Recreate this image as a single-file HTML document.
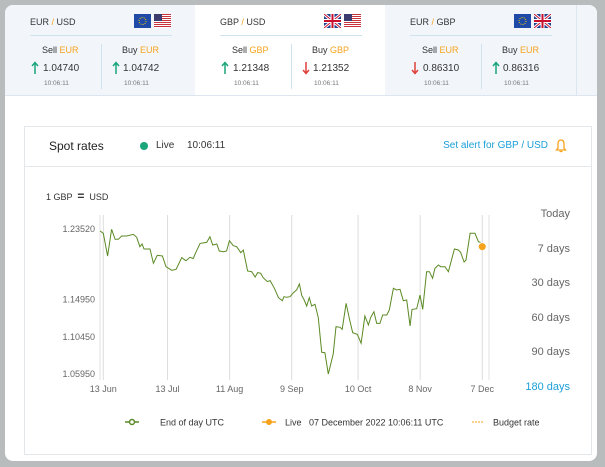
<!DOCTYPE html>
<html><head><meta charset="utf-8">
<style>
*{box-sizing:border-box;margin:0;padding:0}
body{width:605px;height:467px;background:#b9bcbd;font-family:"Liberation Sans",sans-serif;position:relative;overflow:hidden;color:#333}
.frame{position:absolute;left:5px;top:5px;width:592px;height:456px;background:#fff;border-radius:8px;overflow:hidden}
.t{position:absolute;white-space:nowrap}
.card{position:absolute;top:0;height:91px;background:#f2f6fb;border-right:1px solid #dde6ef;border-bottom:1px solid #dde6ef}
.o{color:#f7a21b}
.flag{position:absolute;width:17px;height:14px}
</style></head><body>
<div class="frame">
<div id="cards"></div>
<div style="position:absolute;left:19px;top:121px;width:568px;height:329px;border:1px solid #e3e7ea"></div>
<div style="position:absolute;left:19px;top:161px;width:568px;height:1px;background:#e3e7ea"></div>
<div class="t" style="left:44px;top:134px;font-size:12px;color:#222">Spot rates</div>
<div style="position:absolute;left:135px;top:137px;width:8px;height:8px;border-radius:50%;background:#1aa57a"></div>
<div class="t" style="left:151px;top:135px;font-size:10px">Live</div>
<div class="t" style="left:182px;top:135px;font-size:10px">10:06:11</div>
<div class="t" style="right:49px;top:135px;font-size:10px;color:#1a9fd8">Set alert for GBP / USD</div>
<svg style="position:absolute;left:550px;top:134px" width="12" height="14" viewBox="0 0 12 14"><path d="M6 1C3.5 1 3 3 3 5v4L1.5 11h9L9 9V5C9 3 8.5 1 6 1z" fill="none" stroke="#f7a21b" stroke-width="1.3"/><path d="M4.5 12.5h3" stroke="#f7a21b" stroke-width="1.3"/></svg>
<div class="t" style="left:41px;top:184px;font-size:9px">1 GBP &nbsp;<b style="font-size:12px">=</b>&nbsp; USD</div>
<div id="periods"></div>
</div>
<svg id="chart" style="position:absolute;left:0;top:0" width="605" height="467"></svg>
<script>
const days=[-1.5,0,2,3.9,5.5,7,8.6,10.9,14,15.6,17.1,18.1,19,21.8,23.4,25.2,27.6,29.3,32,34,36.6,38.6,40.5,42,43,45.2,48.3,49.8,51.1,53,54.2,56.1,57.6,58.9,60.7,62.3,64.2,65.4,67.4,69.3,70.9,72.1,73.5,74.7,76.6,77.9,79.9,81.8,83.6,84.4,85.6,87.2,88.8,90.3,91.6,92.7,93.7,95,96.2,97.3,98.9,100.4,102,103.5,105.1,107.4,108.7,110.6,111.6,113.4,114.9,116.5,118.7,120.4,122.2,123.8,124.9,126.4,127.7,129.2,130.5,132.4,133.6,135.5,137,138.6,140.1,141.7,143.3,144.2,146.4,147.9,149.2,151,152.3,153.8,154.9,156.5,157.6,159.6,161.2,164,165.8,166.9,168.5,169.4,171.3,173.6,175.2,176.2];
const rates=[1.2328,1.2300,1.2025,1.2348,1.2227,1.2227,1.2267,1.2267,1.2287,1.2251,1.2138,1.2170,1.2110,1.2110,1.1936,1.2033,1.2025,1.1895,1.1851,1.1863,1.2005,1.1968,1.2009,1.1993,1.2057,1.2178,1.2190,1.2259,1.2158,1.2170,1.2085,1.2077,1.2085,1.2210,1.2150,1.2138,1.2065,1.2097,1.1843,1.1835,1.1770,1.1823,1.1815,1.1762,1.1714,1.1726,1.1633,1.1520,1.1483,1.1532,1.1524,1.1532,1.1580,1.1613,1.1685,1.1544,1.1499,1.1419,1.1520,1.1419,1.1439,1.1277,1.0857,1.0853,1.0594,1.0837,1.1168,1.1160,1.1136,1.1451,1.1269,1.1095,1.1075,1.0966,1.1297,1.1188,1.1281,1.1350,1.1208,1.1208,1.1309,1.1309,1.1370,1.1633,1.1613,1.1621,1.1483,1.1491,1.1176,1.1378,1.1386,1.1552,1.1378,1.1835,1.1835,1.1754,1.1875,1.1916,1.1895,1.1895,1.1835,1.2110,1.2097,1.2069,1.1952,1.1976,1.2300,1.2300,1.2198,1.2190];
const liveDay=[177];
const liveRate=[1.2138];
const xTickLabels=["13 Jun","13 Jul","11 Aug","9 Sep","10 Oct","8 Nov","7 Dec"];
const xTickDays=[0,30,59,88,119,148,177];
const yTicks=[1.2352,1.1495,1.1045,1.0595];
const yTickLabels=["1.23520","1.14950","1.10450","1.05950"];
const periods=["Today","7 days","30 days","60 days","90 days","180 days"];

const x=d=>103.3+d*2.141;
const y=v=>229+(1.2352-v)*825;
const NS="http://www.w3.org/2000/svg";
const svg=document.getElementById('chart');
function mk(tag,attrs){const e=document.createElementNS(NS,tag);for(const k in attrs)e.setAttribute(k,attrs[k]);svg.appendChild(e);return e;}
let ed=mk('line',{x1:100,x2:100,y1:215,y2:380,stroke:'#e0e0e0'});


ed=mk('line',{x1:489,x2:489,y1:215,y2:380,stroke:'#e0e0e0'});


xTickDays.forEach((d,i)=>{
  const g=mk('line',{x1:x(d),x2:x(d),y1:215,y2:380,stroke:'#dcdcdc'});
  
  
  const t=mk('text',{x:x(d),y:392,'font-size':9,fill:'#666','text-anchor':'middle','font-family':'Liberation Sans'});
  t.textContent=xTickLabels[i];
  
  
});
yTicks.forEach((v,i)=>{
  const t=mk('text',{x:95,y:y(v)+3,'font-size':9,fill:'#666','text-anchor':'end','font-family':'Liberation Sans'});
  t.textContent=yTickLabels[i];
  
  
});
const pts=days.map((d,i)=>x(d).toFixed(1)+','+y(rates[i]).toFixed(1)).join(' ');
const ln=mk('polyline',{points:pts,fill:'none',stroke:'#5b8a24','stroke-width':1});


const lv=mk('circle',{cx:x(liveDay[0]),cy:y(liveRate[0]),r:3.5,fill:'#f7a21b'});


let l=mk('line',{x1:125,x2:139,y1:422,y2:422,stroke:'#5b8a24','stroke-width':1.5});


l=mk('circle',{cx:132,cy:422,r:2.5,fill:'#fff',stroke:'#5b8a24','stroke-width':1.5});


l=mk('line',{x1:262,x2:276,y1:422,y2:422,stroke:'#f7a21b','stroke-width':1.5});


l=mk('circle',{cx:269,cy:422,r:3,fill:'#f7a21b'});


l=mk('line',{x1:472,x2:484,y1:422,y2:422,stroke:'#f7a21b','stroke-width':1,'stroke-dasharray':'2,1'});


[[160,'End of day UTC','legend-eod-label'],[285,'Live','legend-live-label'],[309,'07 December 2022 10:06:11 UTC','legend-live-time'],[493,'Budget rate','legend-budget-label']].forEach(a=>{
  const t=mk('text',{x:a[0],y:425.5,'font-size':9,fill:'#333','font-family':'Liberation Sans'});
  t.textContent=a[1];
  
  
});
const pd=document.getElementById('periods');
periods.forEach((p,i)=>{
  const d=document.createElement('div');
  d.className='t';
  d.style.cssText='right:27px;top:'+(203+i*34.5)+'px;font-size:11px;color:'+(i==5?'#1a9fd8':'#666');
  d.textContent=p;
  
  
  pd.appendChild(d);
});
const cardData=[["EUR","USD","EUR",["eu","us"],"1.04740","1.04742",["up","up"],"#f2f6fb"],["GBP","USD","GBP",["uk","us"],"1.21348","1.21352",["up","down"],"#fff"],["EUR","GBP","EUR",["eu","uk"],"0.86310","0.86316",["down","up"],"#f2f6fb"]];
function flag(k){
  if(k=='eu')return '<svg width="17" height="14"><rect width="17" height="14" fill="#1f4aa8"/><circle cx="8.5" cy="7" r="3.5" fill="none" stroke="#f5d000" stroke-width="1" stroke-dasharray="1,1.2"/></svg>';
  if(k=='us'){let s='<svg width="17" height="14"><rect width="17" height="14" fill="#fff"/>';for(let i=0;i<7;i++)s+='<rect y="'+(i*2)+'" width="17" height="1" fill="#c8323a"/>';return s+'<rect width="8" height="7" fill="#3c3b6e"/></svg>';}
  return '<svg width="17" height="14"><rect width="17" height="14" fill="#1f3f8f"/><path d="M0 0L17 14M17 0L0 14" stroke="#fff" stroke-width="3"/><path d="M0 0L17 14M17 0L0 14" stroke="#c8102e" stroke-width="1"/><path d="M8.5 0V14M0 7H17" stroke="#fff" stroke-width="4"/><path d="M8.5 0V14M0 7H17" stroke="#c8102e" stroke-width="2"/></svg>';
}
function arrow(dir){const c=dir=='up'?'#1aa57a':'#e0403a';
  return dir=='up'?'<svg width="8" height="14"><path d="M4 13V2M1 5L4 1.5L7 5" fill="none" stroke="'+c+'" stroke-width="1.5"/></svg>':'<svg width="8" height="14"><path d="M4 1V12M1 9L4 12.5L7 9" fill="none" stroke="'+c+'" stroke-width="1.5"/></svg>';}
const cw=document.getElementById('cards');
cardData.forEach((c,i)=>{
  const L=i*190;
  const d=document.createElement('div');
  d.className='card';
  d.style.cssText='left:'+L+'px;width:192px;background:'+c[7];
  
  
  d.innerHTML='<div class="t" style="left:25px;top:12px;font-size:9px">'+c[0]+' <span class="o">/</span> '+c[1]+'</div>'+
  '<div class="flag" style="left:129px;top:9px">'+flag(c[3][0])+'</div><div class="flag" style="left:149px;top:9px">'+flag(c[3][1])+'</div>'+
  '<div style="position:absolute;left:25px;top:30px;width:142px;height:1px;background:#cfe3ef"></div>'+
  '<div style="position:absolute;left:96px;top:39px;width:1px;height:45px;background:#cfe3ef"></div>'+
  '<div class="t" style="left:37px;top:40px;font-size:9px">Sell <span class="o">'+c[2]+'</span></div>'+
  '<div class="t" style="left:117px;top:40px;font-size:9px">Buy <span class="o">'+c[2]+'</span></div>'+
  '<div class="t" style="left:26px;top:56px">'+arrow(c[6][0])+'</div><div class="t" style="left:38px;top:58px;font-size:10px">'+c[4]+'</div>'+
  '<div class="t" style="left:107px;top:56px">'+arrow(c[6][1])+'</div><div class="t" style="left:118px;top:58px;font-size:10px">'+c[5]+'</div>'+
  '<div class="t" style="left:39px;top:75px;font-size:6.5px;color:#777">10:06:11</div><div class="t" style="left:119px;top:75px;font-size:6.5px;color:#777">10:06:11</div>';
  cw.appendChild(d);
});
const ex=document.createElement('div');
ex.className='card';ex.style.cssText='left:572px;width:30px';


cw.appendChild(ex);
</script>
</body></html>
